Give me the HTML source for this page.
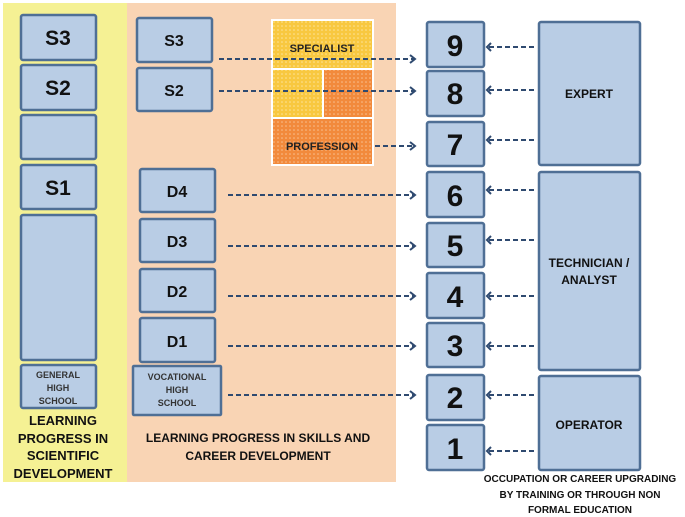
<!DOCTYPE html>
<html><head><meta charset="utf-8"><style>
body{margin:0;background:#fff}
svg{display:block;font-family:"Liberation Sans",sans-serif;font-weight:bold}
.b{fill:#b9cde5;stroke:#4f6f95;stroke-width:2.5}
.a{stroke:#2f4a70;stroke-width:2;stroke-dasharray:5,3;fill:none}
.h{fill:none;stroke:#2f4a70;stroke-width:2}
</style></head><body>
<svg width="685" height="517" viewBox="0 0 685 517">
<defs><pattern id="dy" width="4" height="4" patternUnits="userSpaceOnUse"><rect width="4" height="4" fill="#f8c840"/><circle cx="2" cy="2" r="0.8" fill="#fce39a"/></pattern>
<pattern id="do" width="4" height="4" patternUnits="userSpaceOnUse"><rect width="4" height="4" fill="#f28a3c"/><circle cx="2" cy="2" r="0.8" fill="#f9c090"/></pattern></defs>
<rect x="3" y="3" width="124" height="479" fill="#f5f194"/>
<rect x="127" y="3" width="269" height="479" fill="#f9d4b4"/>
<!-- left column -->
<rect class="b" x="21" y="15" width="75" height="45" rx="2"/>
<rect class="b" x="21" y="65" width="75" height="45" rx="2"/>
<rect class="b" x="21" y="115" width="75" height="44" rx="2"/>
<rect class="b" x="21" y="165" width="75" height="44" rx="2"/>
<rect class="b" x="21" y="215" width="75" height="145" rx="2"/>
<rect class="b" x="21" y="365" width="75" height="43" rx="2"/>
<g font-size="21" text-anchor="middle" fill="#111">
<text x="58" y="45">S3</text><text x="58" y="95">S2</text><text x="58" y="195">S1</text></g>
<g font-size="9" text-anchor="middle" fill="#333"><text x="58" y="378">GENERAL</text><text x="58" y="391">HIGH</text><text x="58" y="404">SCHOOL</text></g>
<g font-size="13" text-anchor="middle" fill="#111"><text x="63" y="425">LEARNING</text><text x="63" y="443">PROGRESS IN</text><text x="63" y="460">SCIENTIFIC</text><text x="63" y="478">DEVELOPMENT</text></g>
<!-- middle -->
<rect class="b" x="137" y="18" width="75" height="44" rx="2"/>
<rect class="b" x="137" y="68" width="75" height="43" rx="2"/>
<rect class="b" x="140" y="169" width="75" height="43" rx="2"/>
<rect class="b" x="140" y="219" width="75" height="43" rx="2"/>
<rect class="b" x="140" y="269" width="75" height="43" rx="2"/>
<rect class="b" x="140" y="318" width="75" height="44" rx="2"/>
<rect class="b" x="133" y="366" width="88" height="49" rx="1" stroke="#34557f"/>
<g font-size="16" text-anchor="middle" fill="#111">
<text x="174" y="46">S3</text><text x="174" y="96">S2</text><text x="177" y="197">D4</text><text x="177" y="247">D3</text><text x="177" y="297">D2</text><text x="177" y="347">D1</text></g>
<g font-size="9" text-anchor="middle" fill="#333"><text x="177" y="380">VOCATIONAL</text><text x="177" y="393">HIGH</text><text x="177" y="406">SCHOOL</text></g>
<g font-size="12" text-anchor="middle" fill="#111"><text x="258" y="442">LEARNING PROGRESS IN SKILLS AND</text><text x="258" y="460">CAREER DEVELOPMENT</text></g>
<!-- specialist block -->
<rect x="271" y="19" width="103" height="147" fill="#fff"/>
<rect x="273" y="21" width="99" height="47" fill="url(#dy)"/>
<rect x="273" y="70" width="49" height="47" fill="url(#dy)"/>
<rect x="324" y="70" width="48" height="47" fill="url(#do)"/>
<rect x="273" y="119" width="99" height="45" fill="url(#do)"/>
<g font-size="11" text-anchor="middle" fill="#222"><text x="322" y="52">SPECIALIST</text><text x="322" y="150">PROFESSION</text></g>
<!-- arrows to numbers -->
<g class="a"><path d="M219 59H414M219 91H414M375 146H414M228 195H414M228 246H414M228 296H414M228 346H414M228 395H414"/></g>
<g class="h"><path d="M410 55l5 4-5 4M410 87l5 4-5 4M410 142l5 4-5 4M410 191l5 4-5 4M410 242l5 4-5 4M410 292l5 4-5 4M410 342l5 4-5 4M410 391l5 4-5 4"/></g>
<!-- number boxes -->
<g>
<rect class="b" x="427" y="22" width="57" height="45" rx="2"/>
<rect class="b" x="427" y="71" width="57" height="45" rx="2"/>
<rect class="b" x="427" y="122" width="57" height="44" rx="2"/>
<rect class="b" x="427" y="172" width="57" height="45" rx="2"/>
<rect class="b" x="427" y="223" width="57" height="44" rx="2"/>
<rect class="b" x="427" y="273" width="57" height="45" rx="2"/>
<rect class="b" x="427" y="323" width="57" height="44" rx="2"/>
<rect class="b" x="427" y="375" width="57" height="45" rx="2"/>
<rect class="b" x="427" y="425" width="57" height="45" rx="2"/>
</g>
<g font-size="30" text-anchor="middle" fill="#111">
<text x="455" y="56">9</text><text x="455" y="104">8</text><text x="455" y="155">7</text><text x="455" y="206">6</text><text x="455" y="256">5</text><text x="455" y="307">4</text><text x="455" y="356">3</text><text x="455" y="408">2</text><text x="455" y="459">1</text></g>
<!-- right -->
<rect class="b" x="539" y="22" width="101" height="143" rx="2"/>
<rect class="b" x="539" y="172" width="101" height="198" rx="2"/>
<rect class="b" x="539" y="376" width="101" height="94" rx="2"/>
<g font-size="12" text-anchor="middle" fill="#111"><text x="589" y="98">EXPERT</text><text x="589" y="267">TECHNICIAN /</text><text x="589" y="284">ANALYST</text><text x="589" y="429">OPERATOR</text></g>
<g class="a"><path d="M534 47H488M534 90H488M534 140H488M534 190H488M534 240H488M534 296H488M534 346H488M534 395H488M534 451H488"/></g>
<g class="h"><path d="M491 43l-4 4 4 4M491 86l-4 4 4 4M491 136l-4 4 4 4M491 186l-4 4 4 4M491 236l-4 4 4 4M491 292l-4 4 4 4M491 342l-4 4 4 4M491 391l-4 4 4 4M491 447l-4 4 4 4"/></g>
<g font-size="10" text-anchor="middle" fill="#111"><text x="580" y="482">OCCUPATION OR CAREER UPGRADING</text><text x="580" y="498">BY TRAINING OR THROUGH NON</text><text x="580" y="513">FORMAL EDUCATION</text></g>
</svg>
</body></html>
